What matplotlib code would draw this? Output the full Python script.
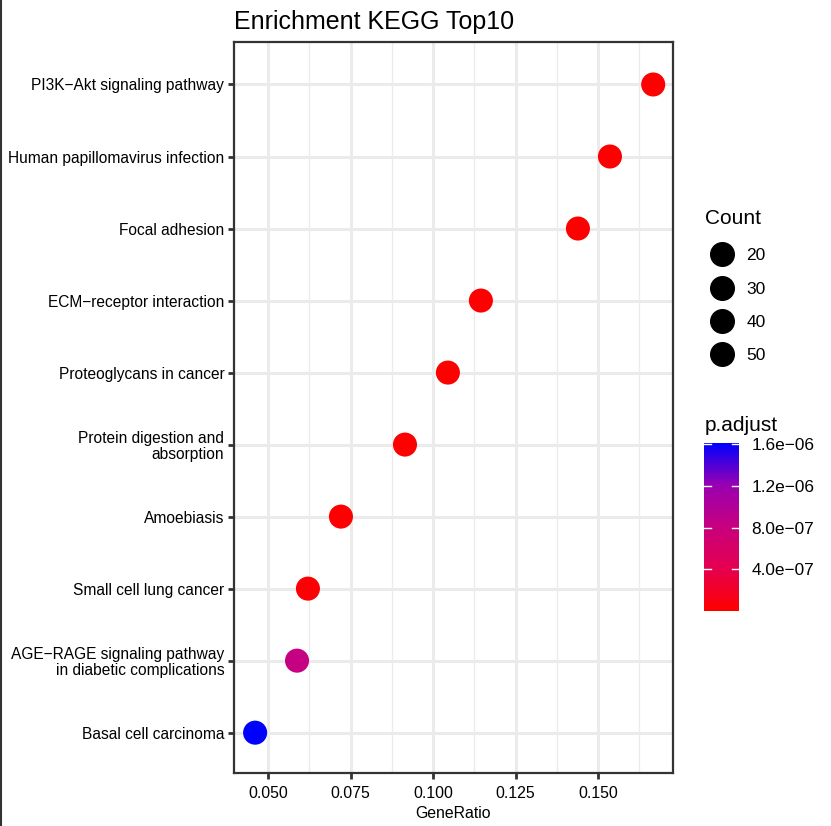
import matplotlib.pyplot as plt
import numpy as np
from matplotlib.colors import LinearSegmentedColormap
from matplotlib.lines import Line2D

plt.rcParams['font.family'] = ['Liberation Sans', 'DejaVu Sans']

# Données KEGG (du bas vers le haut)
pathways = [
    "Basal cell carcinoma",
    "AGE\u2212RAGE signaling pathway\nin diabetic complications",
    "Small cell lung cancer",
    "Amoebiasis",
    "Protein digestion and\nabsorption",
    "Proteoglycans in cancer",
    "ECM\u2212receptor interaction",
    "Focal adhesion",
    "Human papillomavirus infection",
    "PI3K\u2212Akt signaling pathway",
]
gene_ratio = [0.0461, 0.0588, 0.0621, 0.0721, 0.0915, 0.1045, 0.1145, 0.1439, 0.1536, 0.1667]
counts = [14, 18, 19, 22, 28, 32, 35, 44, 47, 51]
p_adjust = [1.61e-06, 8.3e-07, 2.0e-08, 1.5e-08, 1.0e-08, 5e-09, 3e-09, 2e-09, 1e-09, 1e-10]
count_breaks = [20, 30, 40, 50]
p_ticks = [4e-07, 8e-07, 1.2e-06, 1.6e-06]
p_labels = ["4.0e\u221207", "8.0e\u221207", "1.2e\u221206", "1.6e\u221206"]
x_ticks = [0.050, 0.075, 0.100, 0.125, 0.150]

W, H = 831, 826
fig = plt.figure(figsize=(W / 100, H / 100), dpi=100)

# dégradé rouge -> bleu (à la ggplot)
cmap = LinearSegmentedColormap.from_list(
    "rb", [(0, "#FF0000"), (0.25, "#E6004F"), (0.5, "#C8007F"), (0.75, "#9A00B2"), (1, "#0000FF")])
vmin, vmax = 0.0, 1.61e-06

def px(l, t, r, b):
    return [l / W, 1 - b / H, (r - l) / W, (b - t) / H]

ax = fig.add_axes(px(234, 42, 673, 773))
y = np.arange(len(pathways))
# les tailles varient à peine dans l'original
ax.scatter(gene_ratio, y, c=p_adjust, cmap=cmap, vmin=vmin, vmax=vmax,
           s=[300 + 0.0 * c for c in counts], zorder=3, linewidths=0)

ax.set_xlim(0.0397, 0.1727)
ax.set_ylim(-0.56, 9.59)
ax.set_xticks(x_ticks)
ax.set_xticklabels([f"{v:.3f}" for v in x_ticks])
ax.set_xticks([0.0625, 0.0875, 0.1125, 0.1375, 0.1625], minor=True)
ax.set_yticks(y)
ax.set_yticklabels(pathways, ha='right', linespacing=1.1)
ax.tick_params(axis='y', which='major', length=4, width=2, color='#333333',
               labelsize=11.2, labelcolor='black', pad=3)
ax.tick_params(axis='x', which='major', length=4, width=2, color='#333333',
               labelsize=11.4, labelcolor='black', pad=5)
ax.tick_params(axis='x', which='minor', length=0)
ax.grid(True, which='major', color='#EBEBEB', linewidth=2.2, zorder=0)
ax.grid(True, which='minor', axis='x', color='#EBEBEB', linewidth=1.0, zorder=0)
ax.set_axisbelow(True)
for s in ax.spines.values():
    s.set_color('#333333')
    s.set_linewidth(1.6)
ax.set_xlabel('GeneRatio', fontsize=11.4, labelpad=4)
ax.set_title('Enrichment KEGG Top10', fontsize=18, loc='left', pad=9)

# Légende Count
fig.text(705 / W, 1 - 218 / H, 'Count', fontsize=15, va='center', ha='left')
handles = [Line2D([], [], marker='o', linestyle='', color='black', markersize=17) for _ in count_breaks]
leg = fig.legend(handles, [str(c) for c in count_breaks],
                 loc='upper left', bbox_to_anchor=(698 / W, 1 - 236 / H),
                 frameon=False, fontsize=12.5,
                 labelspacing=1.05, handletextpad=0.7, handlelength=1.4, borderpad=0.2)

# Barre de couleur p.adjust
cax = fig.add_axes(px(704, 443, 739, 611))
grad = np.linspace(vmin, vmax, 256).reshape(-1, 1)
cax.imshow(grad, aspect='auto', cmap=cmap, origin='lower', extent=[0, 1, vmin, vmax])
for t in p_ticks:
    cax.plot([0, 0.2], [t, t], color='white', lw=1)
    cax.plot([0.8, 1], [t, t], color='white', lw=1)
cax.set_xlim(0, 1)
cax.set_ylim(vmin, vmax)
cax.set_xticks([])
cax.yaxis.tick_right()
cax.set_yticks(p_ticks)
cax.set_yticklabels(p_labels, fontsize=12.4)
cax.tick_params(axis='y', length=0, pad=9)
for s in cax.spines.values():
    s.set_visible(False)
fig.text(705 / W, 1 - 425 / H, 'p.adjust', fontsize=15, va='center', ha='left')

# bord gauche
fig.add_artist(Line2D([0.5 / W, 0.5 / W], [0, 1], color='#333333', lw=1.5, transform=fig.transFigure))

plt.savefig('out.png', dpi=100)
plt.close()
